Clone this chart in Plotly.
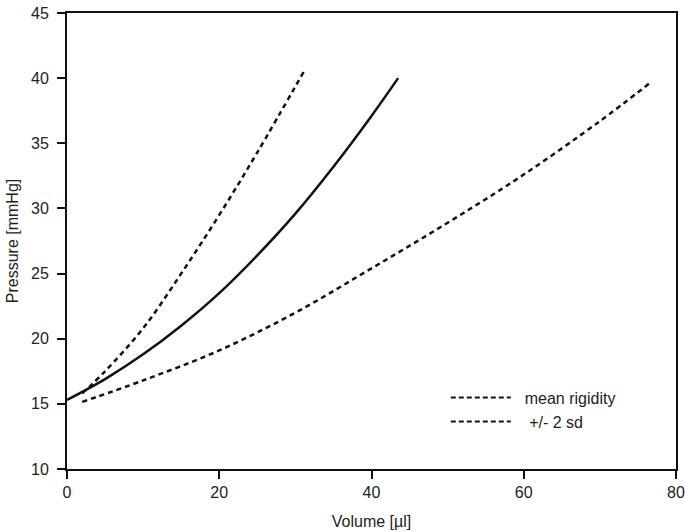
import plotly.graph_objects as go

# Mean rigidity curve (solid)
mean_x = [0, 5, 10, 15, 20, 25, 30, 35, 40, 43.5]
mean_y = [15.3, 16.9, 18.8, 21.0, 23.5, 26.4, 29.6, 33.2, 37.1, 40.0]

# +2 sd curve (upper dashed)
upper_x = [2, 5, 10, 15, 20, 25, 31.3]
upper_y = [15.8, 17.5, 20.8, 25.0, 29.5, 34.3, 40.7]

# -2 sd curve (lower dashed)
lower_x = [2, 10, 20, 30, 40, 50, 60, 70, 76.5]
lower_y = [15.15, 16.8, 19.1, 22.0, 25.4, 28.9, 32.6, 36.7, 39.6]

legend_labels = ["\u00a0\u00a0mean rigidity", "\u00a0\u00a0\u00a0+/- 2 sd"]

x_ticks = [0, 20, 40, 60, 80]
y_ticks = [10, 15, 20, 25, 30, 35, 40, 45]

FONT = "Liberation Sans, Arial, Helvetica, sans-serif"
dash = "5px,4px"

fig = go.Figure()
fig.add_trace(go.Scatter(x=mean_x, y=mean_y, mode="lines", showlegend=False,
                         line=dict(color="#111", width=2.5, shape="spline")))
fig.add_trace(go.Scatter(x=upper_x, y=upper_y, mode="lines", showlegend=False,
                         line=dict(color="#111", width=2.5, dash=dash, shape="spline")))
fig.add_trace(go.Scatter(x=lower_x, y=lower_y, mode="lines", showlegend=False,
                         line=dict(color="#111", width=2.5, dash=dash, shape="spline")))
for lab in legend_labels:
    fig.add_trace(go.Scatter(x=[None], y=[None], mode="lines", name=lab,
                             line=dict(color="#111", width=2, dash="5px,3px")))

axis_common = dict(showline=True, linecolor="#111", linewidth=2, mirror=True,
                   ticks="outside", ticklen=8, tickwidth=2, tickcolor="#111",
                   showgrid=False, zeroline=False, automargin=False,
                   tickfont=dict(family=FONT, size=16, color="#222"))

fig.update_xaxes(range=[0, 80], tickvals=x_ticks,
                 title=dict(text="Volume [\u00b5l]", font=dict(family=FONT, size=16, color="#222"), standoff=16),
                 **axis_common)
fig.update_yaxes(range=[10, 45], tickvals=y_ticks, ticklabelstandoff=5,
                 title=dict(text="Pressure [mmHg]", font=dict(family=FONT, size=16, color="#222"), standoff=8),
                 **axis_common)

fig.update_layout(
    width=685, height=532,
    margin=dict(l=67, r=9, t=13, b=63),
    plot_bgcolor="white", paper_bgcolor="white",
    font=dict(family=FONT, size=16, color="#222"),
    legend=dict(x=0.622, y=0.13, xanchor="left", yanchor="middle",
                bgcolor="rgba(0,0,0,0)", font=dict(family=FONT, size=16, color="#222"),
                tracegroupgap=0, itemwidth=60),
)

fig.write_html("out.html", config={"displayModeBar": False},
               post_script="document.body.style.margin='0';document.body.style.padding='0';")
